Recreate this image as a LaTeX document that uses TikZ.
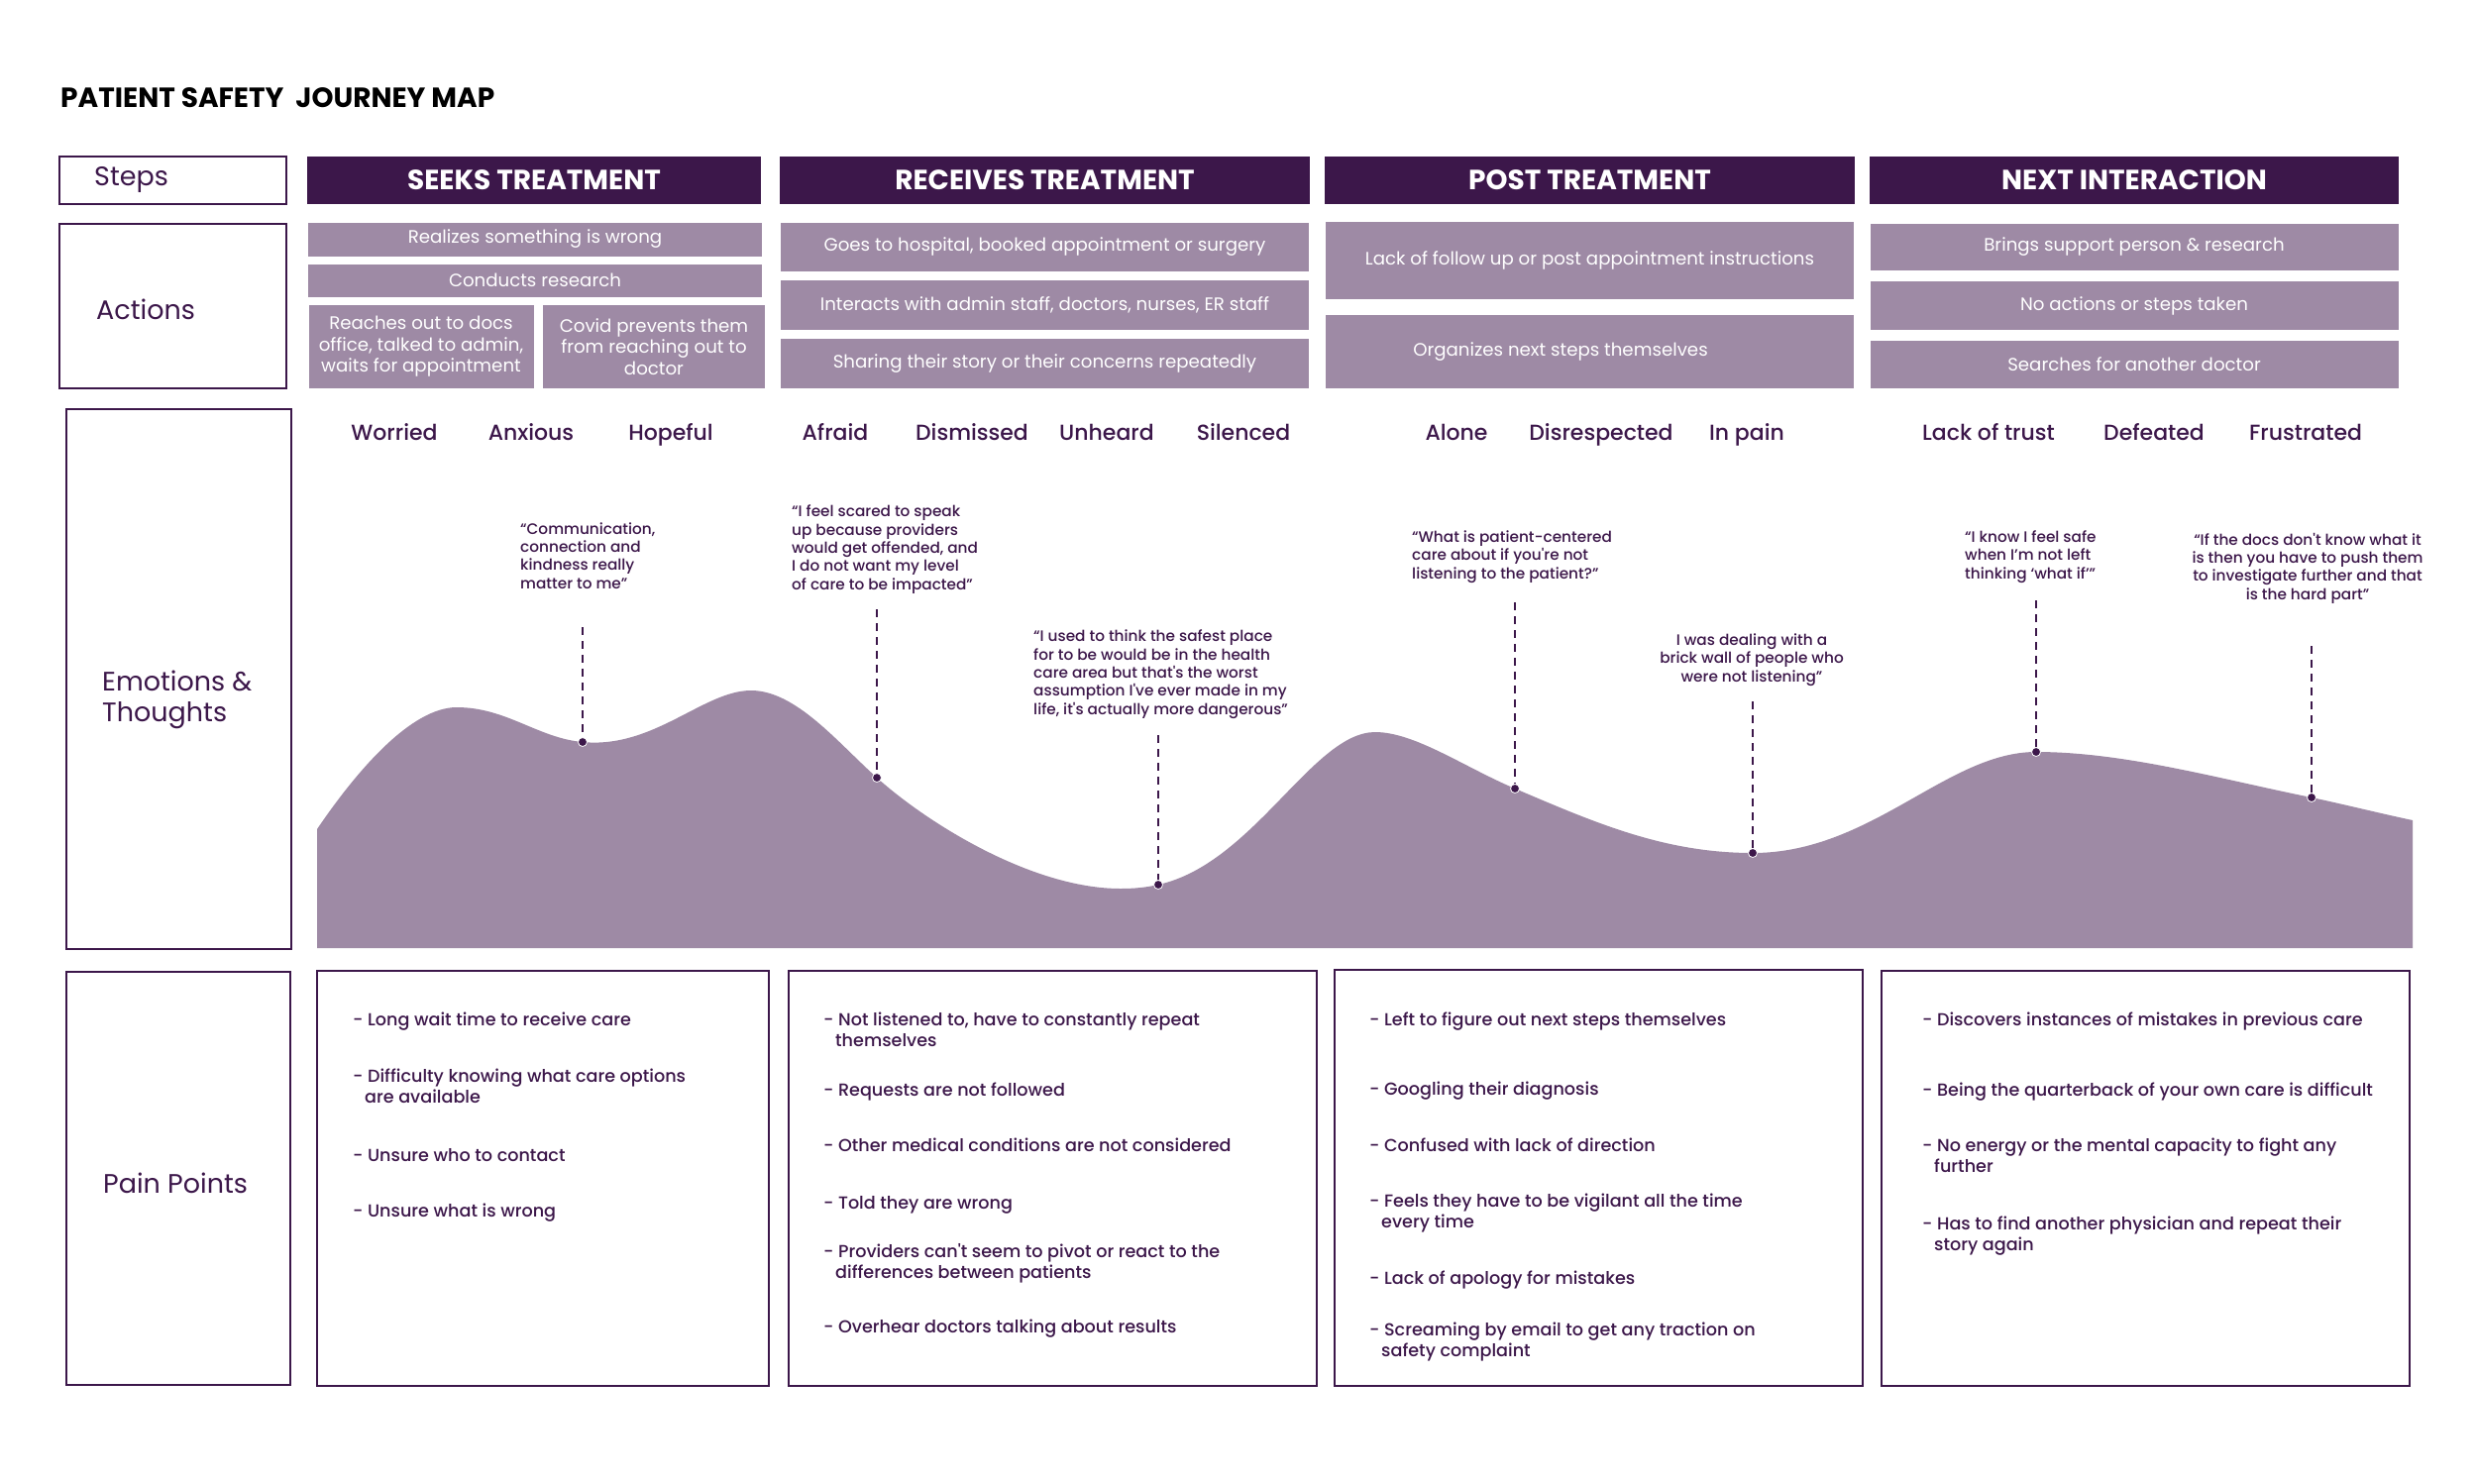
\documentclass[tikz,border=0pt]{standalone}
\usepackage{fontspec}
\setmainfont{Poppins}
\IfFontExistsTF{Poppins Medium}
  {\newfontfamily\medfont{Poppins Medium}}
  {\newfontfamily\medfont{Poppins}}
\usetikzlibrary{positioning}

\definecolor{plum}{HTML}{3C174A}
\definecolor{mauve}{HTML}{9E8AA5}

\newcommand{\ind}{\hspace*{0.68em}}

\tikzset{
  stephead/.style={fill=plum, text=white, inner sep=0, minimum height=48,
    font=\fontsize{28}{32}\selectfont\bfseries},
  actbox/.style={fill=mauve, text=white, inner sep=0, align=center,
    font=\fontsize{18.2}{21.5}\selectfont},
  lblbox/.style={draw=plum, line width=1.5pt, inner sep=0},
  lbltext/.style={text=plum, inner sep=0, align=left,
    font=\fontsize{27}{31}\selectfont},
  emoword/.style={text=plum, anchor=base, inner sep=0,
    font=\medfont\fontsize{22}{25}\selectfont},
  quote/.style={text=plum, inner sep=0, align=left, anchor=base west,
    font=\medfont\fontsize{15.3}{18.3}\selectfont},
  painbox/.style={draw=plum, line width=1.5pt, inner sep=0},
  pain/.style={text=plum, inner sep=0, align=left, anchor=base west,
    font=\medfont\fontsize{17.6}{21.5}\selectfont},
  dot/.style={circle, fill=plum, draw=white, line width=0.8pt, inner sep=0,
    minimum size=9},
  guide/.style={draw=plum, line width=1.2pt, dash pattern=on 8pt off 6pt}
}

\begin{document}
\begin{tikzpicture}[x=1pt, y=-1pt]
  \useasboundingbox[fill=white] (0,0) rectangle (2500,1497);

  % title
  \node[anchor=west, inner sep=0, text=black, font=\fontsize{28}{32}\selectfont\bfseries]
    (title) at (61,99) {PATIENT SAFETY\ \ JOURNEY MAP};

  % row labels
  \node[lblbox, minimum width=229, minimum height=48] (stepsbox) at (174.5,182) {};
  \node[lbltext, anchor=west] (stepslbl) at (95,181) {Steps};
  \node[lblbox, minimum width=229, minimum height=166] (actbox) at (174.5,309) {};
  \node[lbltext, anchor=west] (actlbl) at (97,312) {Actions};
  \node[lblbox, minimum width=227, minimum height=545] (emobox) at (180.5,685.5) {};
  \node[lbltext, anchor=base west] (emolbl) at (103,728) {Emotions \&\\Thoughts};
  \node[lblbox, minimum width=226, minimum height=417] (painlbox) at (180,1189.5) {};
  \node[lbltext, anchor=west] (painlbl) at (104,1194) {Pain Points};

  % steps
  \node[stephead, minimum width=458] (seeks) at (539,182) {SEEKS TREATMENT};
  \node[stephead, minimum width=535] (receives) at (1054.5,182) {RECEIVES TREATMENT};
  \node[stephead, minimum width=535] (post) at (1604.5,182) {POST TREATMENT};
  \node[stephead, minimum width=534] (next) at (2154,182) {NEXT INTERACTION};

  % actions
  \node[actbox, minimum width=458, minimum height=34] (a1) at (540,241.5) {Realizes something is wrong};
  \node[actbox, minimum width=458, minimum height=33] (a2) at (540,283) {Conducts research};
  \node[actbox, minimum width=227, minimum height=84] (a3) at (425,350)
    {Reaches out to docs\\office, talked to admin,\\waits for appointment};
  \node[actbox, minimum width=224, minimum height=84] (a4) at (660,350)
    {Covid prevents them\\from reaching out to\\doctor};
  \node[actbox, minimum width=533, minimum height=49] (b1) at (1054.5,249.5) {Goes to hospital, booked appointment or surgery};
  \node[actbox, minimum width=533, minimum height=50] (b2) at (1054.5,308) {Interacts with admin staff, doctors, nurses, ER staff};
  \node[actbox, minimum width=533, minimum height=50] (b3) at (1054.5,367) {Sharing their story or their concerns repeatedly};
  \node[actbox, minimum width=533, minimum height=78] (c1) at (1604.5,263) {Lack of follow up or post appointment instructions};
  \node[actbox, minimum width=533, minimum height=74] (c2) at (1604.5,355) {};
  \node[text=white, font=\fontsize{18.2}{21.5}\selectfont, inner sep=0] (c2txt) at (1575,355)
    {Organizes next steps themselves};
  \node[actbox, minimum width=533, minimum height=47] (d1) at (2154,249.5) {Brings support person \& research};
  \node[actbox, minimum width=533, minimum height=49] (d2) at (2154,308.5) {No actions or steps taken};
  \node[actbox, minimum width=533, minimum height=48] (d3) at (2154,368) {Searches for another doctor};

  % emotions
  \node[emoword] (e1) at (398,444) {Worried};
  \node[emoword] (e2) at (536,444) {Anxious};
  \node[emoword] (e3) at (677,444) {Hopeful};
  \node[emoword] (e4) at (843,444) {Afraid};
  \node[emoword] (e5) at (981,444) {Dismissed};
  \node[emoword] (e6) at (1117,444) {Unheard};
  \node[emoword] (e7) at (1255,444) {Silenced};
  \node[emoword] (e8) at (1470,444) {Alone};
  \node[emoword] (e9) at (1616,444) {Disrespected};
  \node[emoword] (e10) at (1763,444) {In pain};
  \node[emoword] (e11) at (2007,444) {Lack of trust};
  \node[emoword] (e12) at (2174,444) {Defeated};
  \node[emoword] (e13) at (2327,444) {Frustrated};

  % emotion curve
  \fill[mauve] (320,957) -- (320,837)
    .. controls (360,778) and (415,714) .. (461,714)
    .. controls (511,714) and (543,745) .. (588,749)
    .. controls (660,756) and (710,697) .. (758,697)
    .. controls (803,697) and (845,749) .. (885,785)
    .. controls (935,830) and (1041,897) .. (1131,897)
    .. controls (1144,897) and (1156,896) .. (1169,893)
    .. controls (1265,872) and (1325,739) .. (1388,739)
    .. controls (1428,739) and (1479,775) .. (1529,796)
    .. controls (1609,830) and (1679,861) .. (1769,861)
    .. controls (1889,861) and (1965,759) .. (2055,759)
    .. controls (2145,759) and (2243,787) .. (2333,805)
    .. controls (2366,812) and (2402,821) .. (2435,828)
    -- (2435,957) -- cycle;

  % quotes
  \node[quote] (q1) at (525,594) {“Communication,\\connection and\\kindness really\\matter to me”};
  \node[quote] (q2) at (799,595) {“I feel scared to speak\\up because providers\\would get offended, and\\I do not want my level\\of care to be impacted”};
  \node[quote] (q3) at (1043,721) {“I used to think the safest place\\for to be would be in the health\\care area but that's the worst\\assumption I've ever made in my\\life, it's actually more dangerous”};
  \node[quote] (q4) at (1425,584) {“What is patient-centered\\care about if you're not\\listening to the patient?”};
  \node[quote, align=center, anchor=base] (q5) at (1768,688) {I was dealing with a\\brick wall of people who\\were not listening”};
  \node[quote] (q6) at (1983,584) {“I know I feel safe\\when I’m not left\\thinking ‘what if’”};
  \node[quote, align=center, anchor=base] (q7) at (2329,605) {“If the docs don't know what it\\is then you have to push them\\to investigate further and that\\is the hard part”};

  % quote markers
  \coordinate (t1) at (588,633);  \node[dot] (m1) at (588,749) {};
  \coordinate (t2) at (885,615);  \node[dot] (m2) at (885,785) {};
  \coordinate (t3) at (1169,742); \node[dot] (m3) at (1169,893) {};
  \coordinate (t4) at (1529,608); \node[dot] (m4) at (1529,796) {};
  \coordinate (t5) at (1769,708); \node[dot] (m5) at (1769,861) {};
  \coordinate (t6) at (2055,606); \node[dot] (m6) at (2055,759) {};
  \coordinate (t7) at (2333,652); \node[dot] (m7) at (2333,805) {};
  \foreach \i in {1,...,7}
    \draw[guide] (t\i) -- (m\i);

  % pain points
  \node[painbox, minimum width=456, minimum height=419] (pb1) at (548,1189.5) {};
  \node[painbox, minimum width=533, minimum height=419] (pb2) at (1062.5,1189.5) {};
  \node[painbox, minimum width=533, minimum height=420] (pb3) at (1613.5,1189) {};
  \node[painbox, minimum width=533, minimum height=419] (pb4) at (2165.5,1189.5) {};

  \node[pain] (p11) at (356,1035) {- Long wait time to receive care};
  \node[pain] (p12) at (356,1113.5) {- Difficulty knowing what care options\\\ind are available};
  \node[pain] (p13) at (356,1172) {- Unsure who to contact};
  \node[pain] (p14) at (356,1228) {- Unsure what is wrong};

  \node[pain] (p21) at (831,1056.5) {- Not listened to, have to constantly repeat\\\ind themselves};
  \node[pain] (p22) at (831,1106) {- Requests are not followed};
  \node[pain] (p23) at (831,1162) {- Other medical conditions are not considered};
  \node[pain] (p24) at (831,1220) {- Told they are wrong};
  \node[pain] (p25) at (831,1290.5) {- Providers can't seem to pivot or react to the\\\ind differences between patients};
  \node[pain] (p26) at (831,1345) {- Overhear doctors talking about results};

  \node[pain] (p31) at (1382,1035) {- Left to figure out next steps themselves};
  \node[pain] (p32) at (1382,1105) {- Googling their diagnosis};
  \node[pain] (p33) at (1382,1162) {- Confused with lack of direction};
  \node[pain] (p34) at (1382,1239.5) {- Feels they have to be vigilant all the time\\\ind every time};
  \node[pain] (p35) at (1382,1296) {- Lack of apology for mistakes};
  \node[pain] (p36) at (1382,1369.5) {- Screaming by email to get any traction on\\\ind safety complaint};

  \node[pain] (p41) at (1940,1035) {- Discovers instances of mistakes in previous care};
  \node[pain] (p42) at (1940,1106) {- Being the quarterback of your own care is difficult};
  \node[pain] (p43) at (1940,1183.5) {- No energy or the mental capacity to fight any\\\ind further};
  \node[pain] (p44) at (1940,1262.5) {- Has to find another physician and repeat their\\\ind story again};
\end{tikzpicture}
\end{document}
